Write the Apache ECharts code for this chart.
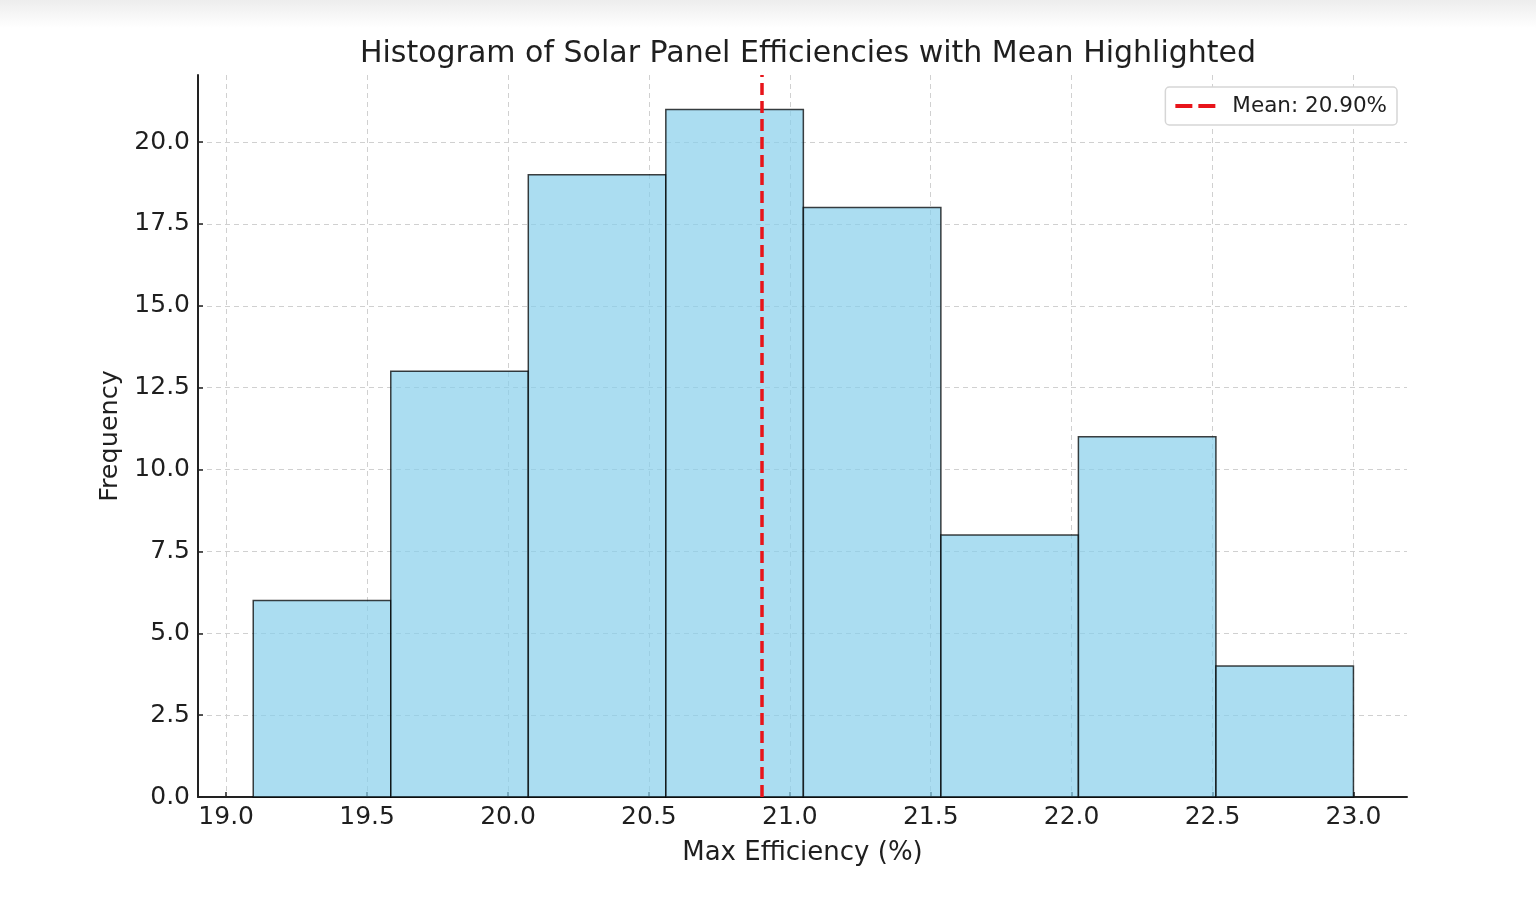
<!DOCTYPE html>
<html>
<head>
<meta charset="utf-8">
<title>Histogram of Solar Panel Efficiencies</title>
<script src="https://cdn.jsdelivr.net/npm/echarts@6/dist/echarts.min.js"></script>
<style>
  html, body { margin: 0; padding: 0; background: #fff; }
  body { background: linear-gradient(#ededed 0px, #ffffff 28px); }
  #chart { width: 1536px; height: 921px; }
</style>
</head>
<body>
<div id="chart"></div>
<script>
// histogram bins (edges) and counts
const binEdges = [19.096, 19.584, 20.072, 20.560, 21.048, 21.536, 22.024, 22.512, 23.0];
const counts = [6, 13, 19, 21, 18, 8, 11, 4];
const meanValue = 20.90;
const xTicks = [19.0, 19.5, 20.0, 20.5, 21.0, 21.5, 22.0, 22.5, 23.0];
const yTicks = [0, 2.5, 5, 7.5, 10, 12.5, 15, 17.5, 20];

const FONT = '"DejaVu Sans", sans-serif';
const TEXT = '#1f1f1f';
const RED = '#e8141a';

const bins = counts.map((c, i) => [binEdges[i], binEdges[i + 1], c]);
const meanName = 'Mean: ' + meanValue.toFixed(2) + '%';

const chart = echarts.init(document.getElementById('chart'));
chart.setOption({
  animation: false,
  backgroundColor: 'transparent',
  title: {
    text: 'Histogram of Solar Panel Efficiencies with Mean Highlighted',
    left: 803, top: 34, textAlign: 'center',
    textStyle: { fontFamily: FONT, fontSize: 30, fontWeight: 'normal', color: TEXT }
  },
  legend: {
    // two-dash icon, like the dashed line key
    data: [{ name: meanName, icon: 'path://M0,0H17V4H0Z M23,0H40V4H23Z' }],
    right: 139, top: 87,
    padding: [8, 10, 8, 10],
    itemWidth: 40, itemHeight: 4, itemGap: 10,
    backgroundColor: '#fff',
    borderColor: '#d6d6d6', borderWidth: 1.5, borderRadius: 4,
    itemStyle: { color: RED },
    textStyle: { fontFamily: FONT, fontSize: 21.5, color: TEXT, padding: [0, 0, 0, 12] }
  },
  grid: { left: 198, right: 129, top: 75, bottom: 124 },
  xAxis: {
    type: 'value', min: 18.9, max: 23.19,
    name: 'Max Efficiency (%)', nameLocation: 'middle', nameGap: 43,
    nameTextStyle: { fontFamily: FONT, fontSize: 26, color: TEXT },
    axisLine: { show: true, onZero: false, lineStyle: { color: '#222', width: 2 } },
    axisTick: { show: true, inside: true, length: 5, customValues: xTicks, lineStyle: { color: '#222', width: 1.5 } },
    axisLabel: {
      customValues: xTicks, margin: 8,
      fontFamily: FONT, fontSize: 25, color: TEXT,
      formatter: v => v.toFixed(1)
    },
    splitLine: { show: true, lineStyle: { color: '#d0d0d0', type: [5, 4], width: 1 } }
  },
  yAxis: {
    type: 'value', min: 0, max: 22.05,
    name: 'Frequency', nameLocation: 'middle', nameGap: 73, nameRotate: 90,
    nameTextStyle: { fontFamily: FONT, fontSize: 25.5, color: TEXT },
    axisLine: { show: true, lineStyle: { color: '#222', width: 2 } },
    axisTick: { show: true, inside: true, length: 5, customValues: yTicks, lineStyle: { color: '#222', width: 1.5 } },
    axisLabel: {
      customValues: yTicks, margin: 8, fontFamily: FONT, fontSize: 25, color: TEXT,
      formatter: v => v.toFixed(1)
    },
    splitLine: { show: true, lineStyle: { color: '#d0d0d0', type: [5, 4], width: 1 } }
  },
  series: [
    {
      type: 'custom',
      name: 'Frequency',
      data: bins,
      encode: { x: [0, 1], y: 2 },
      renderItem: function (params, api) {
        const p0 = api.coord([api.value(0), api.value(2)]);
        const p1 = api.coord([api.value(1), 0]);
        return {
          type: 'rect',
          shape: { x: p0[0], y: p0[1], width: p1[0] - p0[0], height: p1[1] - p0[1] },
          style: { fill: 'rgba(135,206,235,0.7)', stroke: 'rgba(0,0,0,0.75)', lineWidth: 1.5 }
        };
      }
    },
    {
      type: 'line',
      name: meanName,
      data: [],
      symbol: 'none',
      itemStyle: { color: RED },
      lineStyle: { color: RED, width: 4 },
      markLine: {
        silent: true,
        symbol: 'none',
        label: { show: false },
        lineStyle: { color: RED, type: [12, 6], width: 3.5 },
        data: [{ xAxis: meanValue }]
      }
    }
  ]
});
</script>
</body>
</html>
